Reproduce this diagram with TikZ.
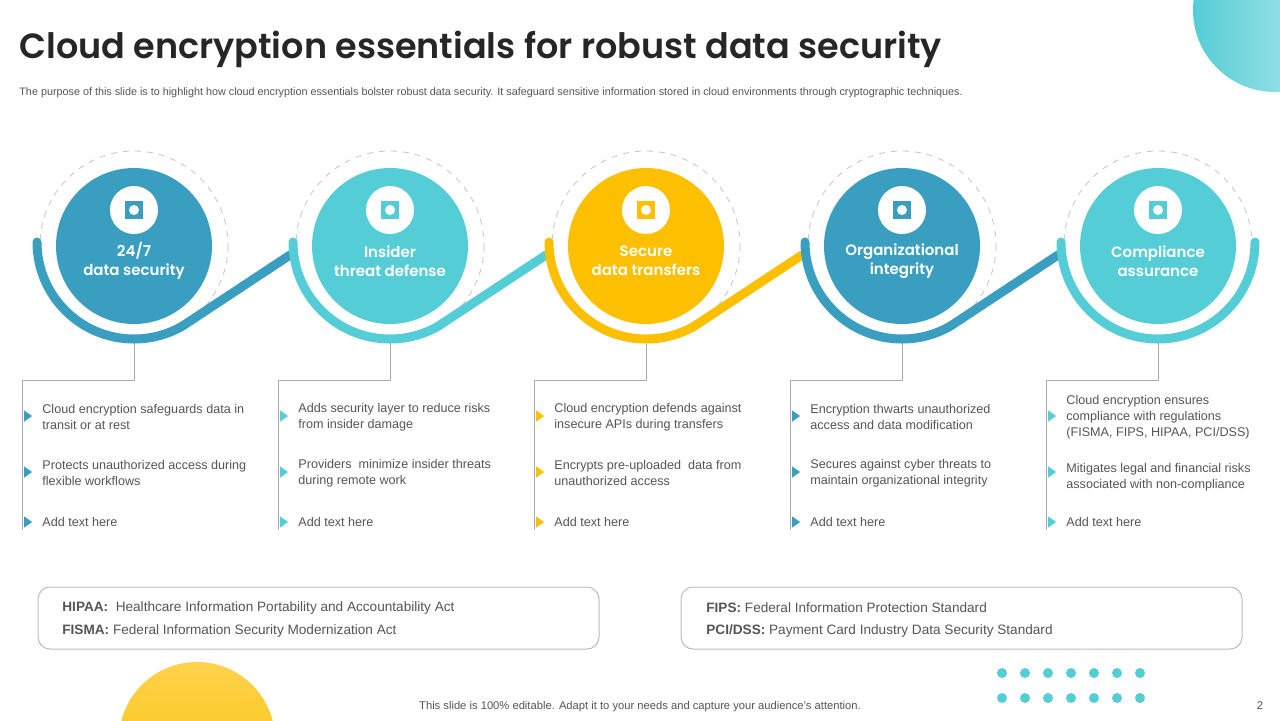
\documentclass[tikz,border=0pt]{standalone}
\usepackage{fontspec}
\setmainfont{Liberation Sans}
\newfontfamily\popb{Poppins SemiBold}
\usetikzlibrary{shapes.geometric}
\definecolor{cb}{HTML}{3A9EC0}
\definecolor{ct}{HTML}{55CDD6}
\definecolor{cy}{HTML}{FDC000}
\definecolor{tx}{HTML}{555555}
\definecolor{ln}{HTML}{AAAAAA}
\tikzset{
  big/.style={circle,minimum size=78pt,inner sep=0pt},
  lab/.style={text=white,align=center,inner sep=0pt,font=\popb\fontsize{7.5}{9.6}\selectfont},
  ico/.style={circle,fill=white,minimum size=24pt,inner sep=0pt},
  bul/.style={isosceles triangle,isosceles triangle apex angle=70,minimum width=5pt,minimum height=4pt,inner sep=0pt},
  btx/.style={anchor=west,align=left,text=tx,font=\fontsize{6.3}{8}\selectfont,inner sep=0pt},
  arcl/.style={line width=4.5pt,line cap=round},
}
\begin{document}
\begin{tikzpicture}[x=0.5pt,y=-0.5pt]
\useasboundingbox (0,0) rectangle (1280,720);
\fill[white] (0,0) rectangle (1280,720);
\begin{scope}
\clip (0,0) rectangle (1280,720);
\shade[left color=ct, right color=ct!35] (1275,10) circle (82);
\shade[top color=cy!70, bottom color=cy] (197,740) circle (78);
\end{scope}
\node[anchor=west,inner sep=0pt,font=\popb\fontsize{17.5}{20}\selectfont,text=black!85] (title) at (19,49) {Cloud encryption essentials for robust data security};
\node[anchor=west,inner sep=0pt,font=\fontsize{5.4}{6}\selectfont,text=tx] (sub) at (19,93) {The purpose of this slide is to highlight how cloud encryption essentials bolster robust data security. It safeguard sensitive information stored in cloud environments through cryptographic techniques.};
\foreach \i/\c/\t/\k in {0/cb/{24/7\\data security}/a,1/ct/{Insider\\threat defense}/b,2/cy/{Secure\\data transfers}/c,3/cb/{Organizational\\integrity}/d,4/ct/{Compliance\\assurance}/e} {
  \pgfmathsetmacro\cx{134+256*\i}
  \draw[ln!70,dashed,line width=0.4pt] (\cx,245) circle (94);
  \node[big,fill=\c] (c\k) at (\cx,246) {};
  \node[lab] (l\k) at (\cx,261) {\t};
  \node[ico] (i\k) at (\cx,210) {};
  \fill[\c] (\cx-9,201) rectangle (\cx+9,219);
  \fill[white] (\cx,210) circle (5);
  \draw[ln,line width=0.5pt] (\cx,343) -- (\cx,380) -- (\cx-112,380) -- (\cx-112,530);
  \node[bul,fill=\c] (t1\k) at (\cx-107,416) {};
  \node[bul,fill=\c] (t2\k) at (\cx-107,472) {};
  \node[bul,fill=\c] (t3\k) at (\cx-107,522) {};
  \node[btx] (x3\k) at (\cx-92,522) {Add text here};
}
% arcs and connectors
\foreach \i/\c in {0/cb,1/ct,2/cy,3/cb} {
  \pgfmathsetmacro\cx{134+256*\i}
  \draw[arcl,\c] (\cx-97,242) arc[start angle=180,end angle=60,radius=97] -- (\cx+256-97-3,255);
}
\draw[arcl,ct] (1024+134-97,242) arc[start angle=180,end angle=0,radius=97];
\node[btx] at (42,417) {Cloud encryption safeguards data in\\transit or at rest};
\node[btx] at (42,473) {Protects unauthorized access during\\flexible workflows};
\node[btx] at (298,417) {Adds security layer to reduce risks\\from insider damage};
\node[btx] at (298,473) {Providers\ \ minimize insider threats\\during remote work};
\node[btx] at (554,417) {Cloud encryption defends against\\insecure APIs during transfers};
\node[btx] at (554,473) {Encrypts pre-uploaded\ \ data from\\unauthorized access};
\node[btx] at (810,417) {Encryption thwarts unauthorized\\access and data modification};
\node[btx] at (810,473) {Secures against cyber threats to\\maintain organizational integrity};
\node[btx] at (1066,417) {Cloud encryption ensures\\compliance with regulations\\(FISMA, FIPS, HIPAA, PCI/DSS)};
\node[btx] at (1066,477) {Mitigates legal and financial risks\\associated with non-compliance};
% bottom boxes
\draw[ln!80,line width=0.5pt,rounded corners=6pt] (38,587) rectangle (599,649);
\draw[ln!80,line width=0.5pt,rounded corners=6pt] (681,587) rectangle (1242,649);
\node[btx,font=\fontsize{6.8}{8}\selectfont] (h1) at (62,608) {\textbf{HIPAA:}\ \ Healthcare Information Portability and Accountability Act};
\node[btx,font=\fontsize{6.8}{8}\selectfont] (h2) at (62,631) {\textbf{FISMA:} Federal Information Security Modernization Act};
\node[btx,font=\fontsize{6.8}{8}\selectfont] (h3) at (706,608) {\textbf{FIPS:} Federal Information Protection Standard};
\node[btx,font=\fontsize{6.8}{8}\selectfont] (h4) at (706,631) {\textbf{PCI/DSS:} Payment Card Industry Data Security Standard};
\foreach \j in {0,...,6} {
  \fill[ct] (1002+23*\j,673) circle (5);
  \fill[ct] (1002+23*\j,698) circle (5);
}
\node[inner sep=0pt,font=\fontsize{5.6}{6}\selectfont,text=tx] (foot) at (640,707) {This slide is 100\% editable. Adapt it to your needs and capture your audience's attention.};
\node[inner sep=0pt,font=\fontsize{5.6}{6}\selectfont,text=tx] (pg) at (1260,706) {2};
\end{tikzpicture}
\end{document}
